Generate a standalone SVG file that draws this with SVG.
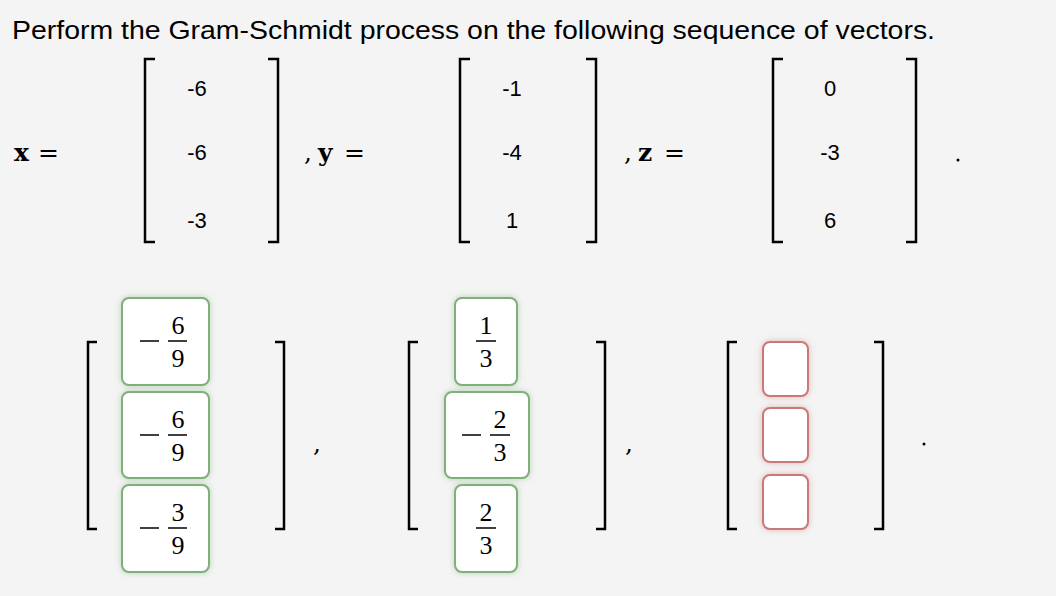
<svg xmlns="http://www.w3.org/2000/svg" width="1056" height="596" viewBox="0 0 1056 596">
<style>
.t{font-family:"Liberation Sans",Arial,sans-serif;font-size:26px;fill:#000}
.e{font-family:"Liberation Sans",Arial,sans-serif;font-size:22px;fill:#000;text-anchor:middle}
.m{font-family:"DejaVu Serif","Liberation Serif",serif;font-size:25px;fill:#000}
.b{fill:none;stroke:#000;stroke-width:2.5}
.g{fill:#fff;stroke:#7fb07a;stroke-width:2}
.r{fill:#fff;stroke:#c97a78;stroke-width:2}
.f{font-family:"Liberation Serif","Times New Roman",serif;font-size:26px;fill:#000;text-anchor:middle}
.fl{stroke:#000;stroke-width:1.5}
</style>
<defs>
<filter id="gg" x="-20%" y="-20%" width="140%" height="140%"><feDropShadow dx="0" dy="0" stdDeviation="3" flood-color="#7fb07a" flood-opacity="0.5"/></filter>
<filter id="rg" x="-20%" y="-20%" width="140%" height="140%"><feDropShadow dx="0" dy="0" stdDeviation="3" flood-color="#c97a78" flood-opacity="0.5"/></filter>
</defs>
<rect width="1056" height="596" fill="#f4f4f4"/>
<text class="t" x="12" y="39" textLength="923" lengthAdjust="spacingAndGlyphs">Perform the Gram-Schmidt process on the following sequence of vectors.</text>
<g id="eqx">
<text class="m" x="14" y="161" font-weight="bold">x</text><text class="m" x="38" y="161">=</text>
<path class="b" d="M155,59 H145 V242 H155 M268,59 H278 V242 H268"/>
<text class="e" x="197" y="96">-6</text><text class="e" x="197" y="160">-6</text><text class="e" x="197" y="228">-3</text>
</g>
<g id="eqy">
<text class="m" x="304" y="161">, </text><text class="m" x="318" y="161" font-weight="bold">y</text><text class="m" x="344" y="161">=</text>
<path class="b" d="M470,59 H460 V242 H470 M586,59 H596 V242 H586"/>
<text class="e" x="512" y="96">-1</text><text class="e" x="512" y="160">-4</text><text class="e" x="512" y="228">1</text>
</g>
<g id="eqz">
<text class="m" x="624" y="161">, </text><text class="m" x="638" y="161" font-weight="bold">z</text><text class="m" x="664" y="161">=</text>
<path class="b" d="M783,59 H773 V242 H783 M906,59 H916 V242 H906"/>
<text class="e" x="830" y="96">0</text><text class="e" x="830" y="160">-3</text><text class="e" x="830" y="228">6</text>
<circle cx="958" cy="160" r="1.5" fill="#000"/>
</g>
<g id="ans1">
<path class="b" d="M97,342 H88 V529 H97 M275,342 H284 V529 H275"/>
<g filter="url(#gg)"><rect class="g" x="122" y="298" width="87" height="87" rx="7"/><rect class="g" x="122" y="392" width="87" height="86" rx="7"/><rect class="g" x="122" y="485" width="87" height="87" rx="7"/></g>
<line class="fl" x1="140" y1="341" x2="159" y2="341"/><line class="fl" x1="168" y1="341" x2="187" y2="341"/><text class="f" x="178" y="334">6</text><text class="f" x="178" y="367">9</text>
<line class="fl" x1="140" y1="435" x2="159" y2="435"/><line class="fl" x1="168" y1="435" x2="187" y2="435"/><text class="f" x="178" y="428">6</text><text class="f" x="178" y="461">9</text>
<line class="fl" x1="140" y1="528" x2="159" y2="528"/><line class="fl" x1="168" y1="528" x2="187" y2="528"/><text class="f" x="178" y="521">3</text><text class="f" x="178" y="554">9</text>
<text class="m" x="313" y="452">,</text>
</g>
<g id="ans2">
<path class="b" d="M418,342 H409 V529 H418 M596,342 H605 V529 H596"/>
<g filter="url(#gg)"><rect class="g" x="455" y="298" width="62" height="87" rx="7"/><rect class="g" x="445" y="392" width="84" height="86" rx="7"/><rect class="g" x="455" y="485" width="62" height="87" rx="7"/></g>
<line class="fl" x1="476" y1="341" x2="496" y2="341"/><text class="f" x="486" y="334">1</text><text class="f" x="486" y="367">3</text>
<line class="fl" x1="462" y1="435" x2="481" y2="435"/><line class="fl" x1="490" y1="435" x2="510" y2="435"/><text class="f" x="500" y="428">2</text><text class="f" x="500" y="461">3</text>
<line class="fl" x1="476" y1="528" x2="496" y2="528"/><text class="f" x="486" y="521">2</text><text class="f" x="486" y="554">3</text>
<text class="m" x="625" y="452">,</text>
</g>
<g id="ans3">
<path class="b" d="M737,342 H728 V529 H737 M874,342 H883 V529 H874"/>
<g filter="url(#rg)"><rect class="r" x="763" y="342" width="45" height="54" rx="7"/><rect class="r" x="763" y="408" width="45" height="54" rx="7"/><rect class="r" x="763" y="475" width="45" height="54" rx="7"/></g>
<circle cx="924" cy="444" r="1.5" fill="#000"/>
</g>
<g id="connectors"/>
</svg>
